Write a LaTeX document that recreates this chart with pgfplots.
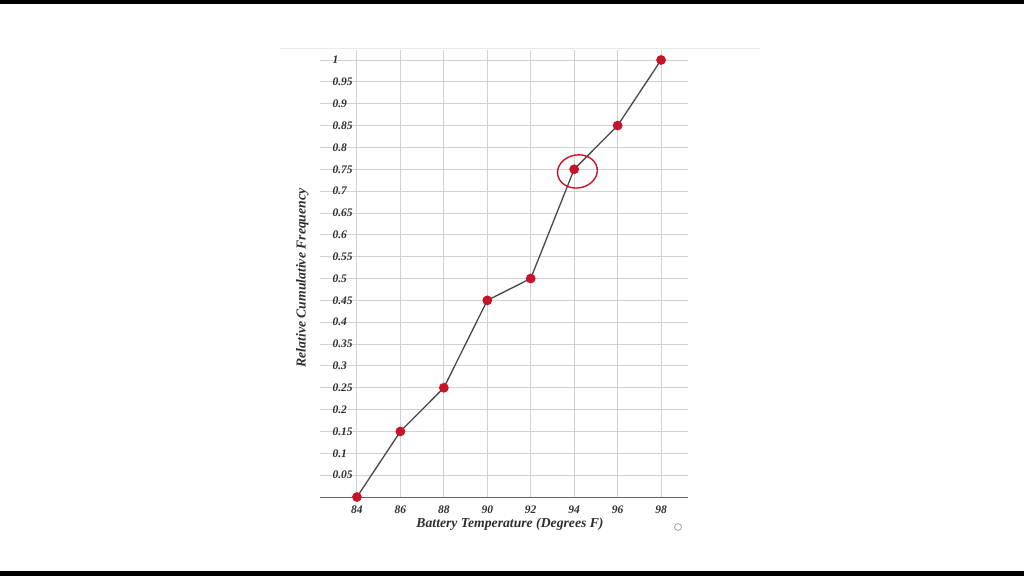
\documentclass[border=0pt]{standalone}
\usepackage{pgfplots}
\pgfplotsset{compat=1.18}
\usepackage{fontspec}
\setmainfont{Liberation Serif}
\definecolor{dotred}{HTML}{C8142A}
\definecolor{gridc}{HTML}{D2D2D2}
\definecolor{txt}{HTML}{2E2E2E}
\begin{document}
\begin{tikzpicture}
\fill[white] (0pt,0pt) rectangle (1024pt,-576pt);
\fill[black] (0pt,0pt) rectangle (1024pt,-4pt);
\fill[black] (0pt,-571pt) rectangle (1024pt,-576pt);
\draw[gridc!50, line width=0.8pt] (280pt,-48pt) -- (760pt,-48pt);
\begin{axis}[
  at={(320pt,-497pt)}, anchor=south west,
  scale only axis, width=368pt, height=447pt,
  xmin=82.3, xmax=99.24, ymin=0, ymax=1.0229,
  xtick={84,86,...,98},
  ytick={0,0.05,...,1.01},
  yticklabels={,0.05,0.1,0.15,0.2,0.25,0.3,0.35,0.4,0.45,0.5,0.55,0.6,0.65,0.7,0.75,0.8,0.85,0.9,0.95,1},
  /pgf/number format/assume math mode=true,
  grid=major,
  major grid style={gridc, line width=0.9pt},
  axis line style={draw=none},
  major tick length=0pt,
  tick label style={font=\fontsize{11.5}{13}\selectfont\bfseries\itshape, text=txt},
  yticklabel style={anchor=west, xshift=9pt},
  xticklabel style={yshift=-5pt},
  xlabel={Battery Temperature (Degrees F)},
  ylabel={Relative Cumulative Frequency},
  label style={font=\fontsize{13.7}{15}\selectfont\bfseries\itshape, text=txt},
  xlabel style={at={(axis description cs:0.5,0)}, anchor=north, yshift=-17pt, xshift=6pt},
  ylabel style={at={(axis description cs:0,0.5)}, anchor=south, yshift=8pt, xshift=-4.5pt},
  clip=false,
]
\draw[gray!80!black, line width=1pt] (axis cs:82.3,0) -- (axis cs:99.24,0);
\addplot[color=black!72, line width=1.3pt, mark=*, mark size=4.2pt,
  mark options={draw=dotred, fill=dotred}] coordinates {
  (84,0) (86,0.15) (88,0.25) (90,0.45) (92,0.5) (94,0.75) (96,0.85) (98,1)
};
\draw[dotred, line width=1.4pt, rotate around={10:(axis cs:94.15,0.745)}] (axis cs:94.15,0.745) ellipse (20pt and 16.5pt);
\end{axis}
\draw[gray!70, line width=0.8pt] (678pt,-527pt) circle (3.5pt);
\end{tikzpicture}
\end{document}
